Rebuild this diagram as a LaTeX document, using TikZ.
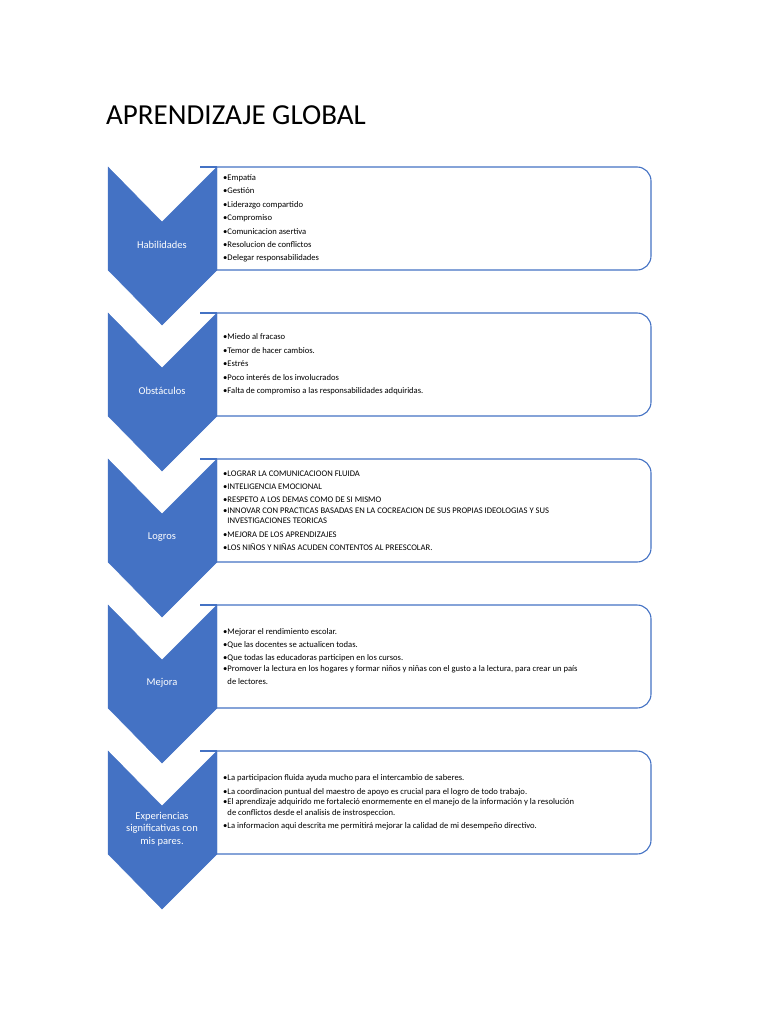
\documentclass[tikz,border=0pt]{standalone}
\usepackage{fontspec}
\setmainfont{Carlito}
\definecolor{blu}{HTML}{4472C4}
\begin{document}
\begin{tikzpicture}[x=1pt,y=-1pt,
 chev/.style={fill=blu,draw=blu},
 lbl/.style={text=white,font=\fontsize{10.5}{12.5}\selectfont,align=center},
 bx/.style={draw=blu,line width=1.1pt,fill=white},
 itm/.style={anchor=west,align=left,font=\fontsize{8.6}{13.4}\selectfont,inner sep=0}]
\useasboundingbox (0,0) rectangle (768,1024);
\node[anchor=west,inner sep=0,font=\fontsize{29}{32}\selectfont] (title) at (106,115) {APRENDIZAJE GLOBAL};
\newcommand{\stage}[4]{%
 \begin{scope}[yshift=-#1]
 \draw[bx,rounded corners=14] (200,0) -- (651,0) -- (651,103) -- (200,103);
 \draw[bx] (217,0) -- (200,0) (217,103)--(200,103);
 \draw[chev] (108,0) -- (162,55) -- (217,0) -- (217,103) -- (162,158) -- (108,103) -- cycle;
 \node[lbl] (c#4) at (162,78) {#2};
 \node[itm] (t#4) at (223,51.5) {#3};
 \end{scope}}
\stage{167}{Habilidades}{•Empatía\\•Gestión\\•Liderazgo compartido\\•Compromiso\\•Comunicacion asertiva\\•Resolucion de conflictos\\•Delegar responsabilidades}{a}
\stage{313}{Obstáculos}{•Miedo al fracaso\\•Temor de hacer cambios.\\•Estrés\\•Poco interés de los involucrados\\•Falta de compromiso a las responsabilidades adquiridas.}{b}
\stage{459}{Logros}{•LOGRAR LA COMUNICACIOON FLUIDA\\•INTELIGENCIA EMOCIONAL\\•RESPETO A LOS DEMAS COMO DE SI MISMO\\[-3pt]•INNOVAR CON PRACTICAS BASADAS EN LA COCREACION DE SUS PROPIAS IDEOLOGIAS Y SUS\\[-3pt]\hphantom{•}INVESTIGACIONES TEORICAS\\•MEJORA DE LOS APRENDIZAJES\\•LOS NIÑOS Y NIÑAS ACUDEN CONTENTOS AL PREESCOLAR.}{c}
\stage{605}{Mejora}{•Mejorar el rendimiento escolar.\\•Que las docentes se actualicen todas.\\•Que todas las educadoras participen en los cursos.\\[-3pt]•Promover la lectura en los hogares y formar niños y niñas con el gusto a la lectura, para crear un país\\\hphantom{•}de lectores.}{d}
\stage{751}{Experiencias\\significativas con\\mis pares.}{•La participacion fluida ayuda mucho para el intercambio de saberes.\\•La coordinacion puntual del maestro de apoyo es crucial para el logro de todo trabajo.\\[-3pt]•El aprendizaje adquirido me fortaleció enormemente en el manejo de la información y la resolución\\[-3pt]\hphantom{•}de conflictos desde el analisis de instrospeccion.\\•La informacion aqui descrita me permitirá mejorar la calidad de mi desempeño directivo.}{e}
\end{tikzpicture}
\end{document}
